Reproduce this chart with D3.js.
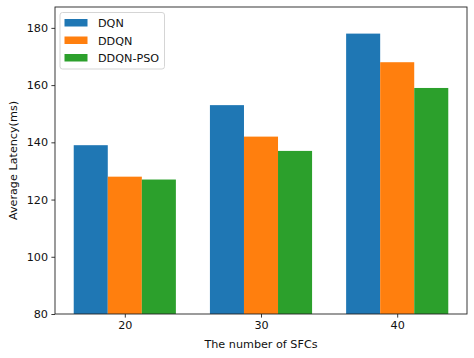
<!DOCTYPE html>
<html><head><meta charset="utf-8">
<script src="https://cdn.jsdelivr.net/npm/d3@7"></script>
<style>body{margin:0;background:#fff}svg{display:block}text{font-family:"DejaVu Sans",sans-serif}</style>
</head><body><svg id="c" width="474" height="358"></svg>
<script>
const categories = ["20", "30", "40"];
const seriesNames = ["DQN", "DDQN", "DDQN-PSO"];
const dqn = [139, 153, 178];
const ddqn = [128, 142, 168];
const ddqnPso = [127, 137, 159];
const yTicks = [80, 100, 120, 140, 160, 180];
const colors = ["#1f77b4", "#ff7f0e", "#2ca02c"];
const series = [dqn, ddqn, ddqnPso];

const svg = d3.select("#c");
const L = 55, R = 467, T = 7, B = 314;
const fs = 11.2;
const bw = 0.25;
const x = d3.scaleLinear().domain([-0.5125, 2.5125]).range([L, R]);
const y = d3.scaleLinear().domain([80, 187.3]).range([B, T]);

// bars
series.forEach((vals, si) => {
  svg.append("g").selectAll("rect").data(vals).join("rect")
    .attr("x", (d, i) => x(i + (si - 1) * bw - bw / 2))
    .attr("width", (d, i) => x(i + (si - 1) * bw + bw / 2) - x(i + (si - 1) * bw - bw / 2))
    .attr("y", d => y(d))
    .attr("height", d => y(80) - y(d))
    .attr("fill", colors[si]);
});

// axes
const xAxis = d3.axisBottom(x).tickValues([0, 1, 2]).tickFormat(i => categories[i]).tickSize(3.6).tickPadding(3.4);
const yAxis = d3.axisLeft(y).tickValues(yTicks).tickSize(3.6).tickPadding(3.4);
const gx = svg.append("g").attr("transform", `translate(0,${B})`).call(xAxis);
const gy = svg.append("g").attr("transform", `translate(${L},0)`).call(yAxis);
[gx, gy].forEach(g => {
  g.select(".domain").remove();
  g.selectAll("line").attr("stroke", "#222").attr("stroke-width", 0.9);
  g.selectAll("text").attr("font-size", fs).attr("fill", "#111").style("font-family", "DejaVu Sans");
});
// spines
svg.append("rect").attr("x", L).attr("y", T).attr("width", R - L).attr("height", B - T)
  .attr("fill", "none").attr("stroke", "#222").attr("stroke-width", 0.9);

// labels
svg.append("text").attr("x", (L + R) / 2).attr("y", 348).attr("text-anchor", "middle")
  .attr("font-size", fs).attr("fill", "#111").text("The number of SFCs");
svg.append("text").attr("transform", `translate(17,${(T + B) / 2}) rotate(-90)`).attr("text-anchor", "middle")
  .attr("font-size", fs).attr("fill", "#111").text("Average Latency(ms)");

// legend
const lg = svg.append("g").attr("transform", "translate(60,12.5)");
lg.append("rect").attr("width", 104.5).attr("height", 56.5).attr("rx", 2.5)
  .attr("fill", "#fff").attr("fill-opacity", 0.8).attr("stroke", "#d0d0d0").attr("stroke-width", 0.9);
seriesNames.forEach((n, i) => {
  lg.append("rect").attr("x", 4.5).attr("y", 6.5 + i * 17.5).attr("width", 23).attr("height", 7.5).attr("fill", colors[i]);
  lg.append("text").attr("x", 38).attr("y", 14.5 + i * 17.5).attr("font-size", fs).attr("fill", "#111").text(n);
});
</script></body></html>
